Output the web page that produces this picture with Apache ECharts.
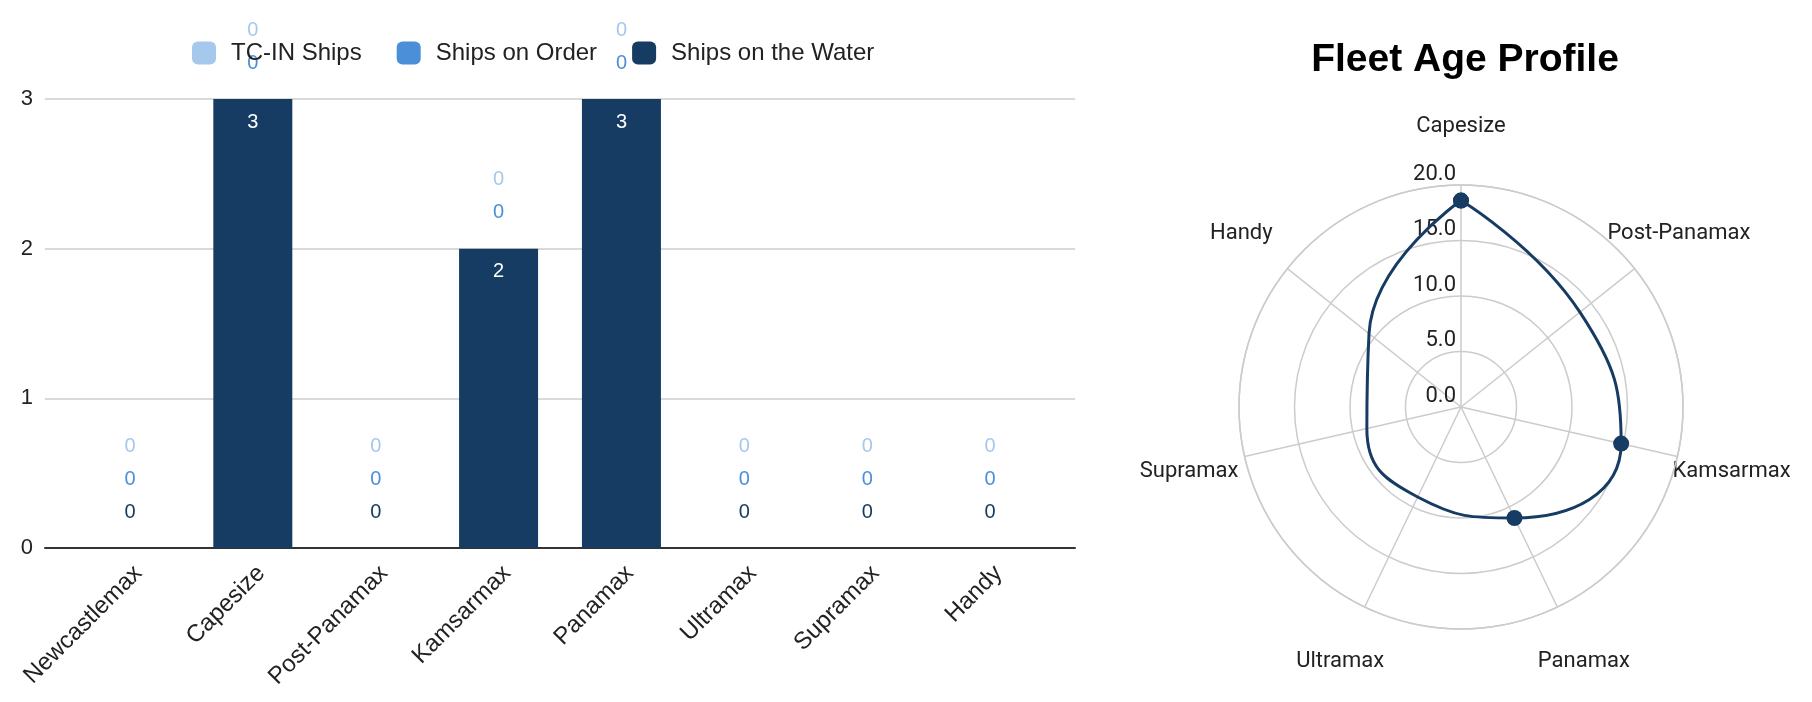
<!DOCTYPE html>
<html>
<head>
<meta charset="utf-8">
<title>Fleet</title>
<script src="https://cdn.jsdelivr.net/npm/echarts@6.0.0/dist/echarts.min.js"></script>
<style>
  html, body { margin: 0; padding: 0; background: #fff; }
  #main { width: 1812px; height: 702px; }
</style>
</head>
<body>
<div id="main"></div>
<script>
// ship counts per class
var categories = ['Newcastlemax', 'Capesize', 'Post-Panamax', 'Kamsarmax', 'Panamax', 'Ultramax', 'Supramax', 'Handy'];
var tcInShips = [0, 0, 0, 0, 0, 0, 0, 0];
var shipsOnOrder = [0, 0, 0, 0, 0, 0, 0, 0];
var shipsOnWater = [0, 3, 0, 2, 3, 0, 0, 0];
var countTicks = [0, 1, 2, 3];

// fleet age profile (curve read at each spoke)
var ageCategories = ['Capesize', 'Post-Panamax', 'Kamsarmax', 'Panamax', 'Ultramax', 'Supramax', 'Handy'];
var avgAge = [18.6, 13.7, 14.8, 11.1, 9.0, 8.7, 10.6];
var ageTicks = [0, 5, 10, 15, 20];

// label nudges for the spoke names (top, right, bottom, left) and a drop for the side ones
var ageLabelPadding = [[0, 0, 93, 0], [0, 0, 52, 8], [0, 0, 0, 39], [84, 0, 0, 0], [84, 0, 0, 0], [0, 50, 0, 0], [0, 50, 52, 0]];
var ageLabelDrop = [0, 0, 25, 0, 0, 25, 0];

var navy = '#173c63', midBlue = '#4a8fd8', lightBlue = '#a6c8ec';
var gridGray = '#cccccc';

var myChart = echarts.init(document.getElementById('main'));

// bottom series first, the others stack on top
var stackDefs = [
  { name: 'Ships on the Water', data: shipsOnWater, color: navy },
  { name: 'Ships on Order', data: shipsOnOrder, color: midBlue },
  { name: 'TC-IN Ships', data: tcInShips, color: lightBlue }
];
// zero bars put their annotation above the ones already placed
var slots = categories.map(function () { return 0; });
var barSeries = stackDefs.map(function (s) {
  var items = s.data.map(function (v, i) {
    if (v > 0) {
      return { value: v, label: { position: 'insideTop', distance: 13, color: '#fff' } };
    }
    var d = 26 + 33 * slots[i];
    slots[i]++;
    return { value: v, label: { position: 'top', distance: d, color: s.color } };
  });
  return {
    name: s.name,
    type: 'bar',
    stack: 'ships',
    xAxisIndex: 1,
    yAxisIndex: 1,
    barWidth: 79,
    itemStyle: { color: s.color },
    label: { show: true, fontSize: 20, fontFamily: 'Arial' },
    data: items
  };
});

var step = 360 / ageCategories.length;
var linePoints = ageCategories.map(function (c, i) {
  var hasShips = shipsOnWater[categories.indexOf(c)] > 0;
  return { value: [avgAge[i], i * step], symbolSize: hasShips ? 16 : 0 };
});
linePoints.push({ value: [avgAge[0], 360], symbolSize: 16 });

var option = {
  animation: false,
  backgroundColor: '#fff',
  title: {
    text: 'Fleet Age Profile',
    left: 1460,
    top: 36,
    textAlign: 'center',
    textStyle: { fontSize: 39, fontWeight: 'bold', color: '#000', fontFamily: 'Arial' }
  },
  legend: {
    data: ['TC-IN Ships', 'Ships on Order', 'Ships on the Water'],
    left: 187,
    top: 36,
    icon: 'roundRect',
    itemWidth: 24,
    itemHeight: 23,
    itemGap: 35,
    textStyle: { fontSize: 24, color: '#222', fontFamily: 'Arial', padding: [0, 0, 0, 10] }
  },
  grid: [
    { left: 45, right: 737, top: 99, bottom: 154 },
    { left: 68.5, right: 760.5, top: 99, bottom: 154 }
  ],
  xAxis: [
    {
      gridIndex: 0, type: 'category', data: [''],
      axisLine: { lineStyle: { color: '#333', width: 2 } },
      axisTick: { show: false }, axisLabel: { show: false }
    },
    {
      gridIndex: 1, type: 'category', data: categories,
      axisLine: { show: false }, axisTick: { show: false },
      axisLabel: { rotate: 45, margin: 30, fontSize: 24, color: '#222', fontFamily: 'Arial', interval: 0, padding: [0, -12, 0, 0] }
    }
  ],
  yAxis: [
    {
      gridIndex: 0, type: 'value', min: countTicks[0], max: countTicks[countTicks.length - 1], interval: 1,
      axisLine: { show: false }, axisTick: { show: false },
      axisLabel: { margin: 12, fontSize: 22, color: '#222', fontFamily: 'Arial' },
      splitLine: { lineStyle: { color: gridGray, width: 1.5 } }
    },
    {
      gridIndex: 1, type: 'value', min: countTicks[0], max: countTicks[countTicks.length - 1],
      show: false
    }
  ],
  polar: [
    { center: [1461, 407], radius: 222 },
    { center: [1461, 407], radius: 222 }
  ],
  angleAxis: [
    {
      // spokes and class names
      polarIndex: 0, type: 'category', startAngle: 90, clockwise: true, boundaryGap: false,
      data: ageCategories.map(function (c, i) {
        var ts = { padding: ageLabelPadding[i] };
        if (ageLabelDrop[i]) ts.lineHeight = ageLabelDrop[i] * 2;
        return { value: c, textStyle: ts };
      }),
      axisLine: { show: false },
      axisTick: { show: false },
      axisLabel: {
        margin: -45, fontSize: 22, color: '#222', fontFamily: 'Roboto',
        formatter: function (value, index) { return ageLabelDrop[index] ? '\n' + value : value; }
      },
      splitLine: { show: true, lineStyle: { color: gridGray, width: 1.5 } }
    },
    {
      // full outer circle + the curve
      polarIndex: 1, type: 'value', min: 0, max: 360, startAngle: 90, clockwise: true,
      axisLine: { show: true, lineStyle: { color: gridGray, width: 1.5 } },
      axisTick: { show: false }, axisLabel: { show: false }, splitLine: { show: false }
    }
  ],
  radiusAxis: [
    {
      polarIndex: 0, min: ageTicks[0], max: ageTicks[ageTicks.length - 1], interval: 5,
      axisLine: { show: false }, axisTick: { show: false },
      axisLabel: {
        margin: 5, verticalAlign: 'bottom', fontSize: 22, color: '#222', fontFamily: 'Roboto',
        formatter: function (v) { return v.toFixed(1); }
      },
      splitLine: { show: false }
    },
    {
      polarIndex: 1, min: ageTicks[0], max: ageTicks[ageTicks.length - 1], interval: 5,
      axisLine: { show: false }, axisTick: { show: false }, axisLabel: { show: false },
      splitLine: { show: true, lineStyle: { color: gridGray, width: 1.5 } }
    }
  ],
  series: barSeries.concat([
    {
      name: 'Fleet Age',
      type: 'line',
      coordinateSystem: 'polar',
      polarIndex: 1,
      smooth: true,
      symbol: 'circle',
      lineStyle: { color: navy, width: 3 },
      itemStyle: { color: navy },
      data: linePoints
    }
  ])
};
myChart.setOption(option);
</script>
</body>
</html>
